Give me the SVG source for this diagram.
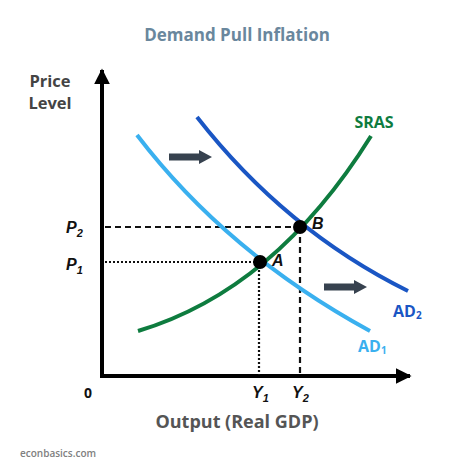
<svg xmlns="http://www.w3.org/2000/svg" width="474" height="474" viewBox="0 0 474 474">
<style>
.t{font-family:"Open Sans","Liberation Sans",sans-serif;font-weight:bold}
.lab{font-family:"Liberation Sans",sans-serif;font-weight:bold;font-style:italic;fill:#111}
.curve{fill:none;stroke-width:4;stroke-linecap:butt}
.dash{stroke:#111;stroke-width:2.2;stroke-dasharray:6 4;fill:none}
.dot{stroke:#111;stroke-width:2.2;stroke-dasharray:2 2;fill:none}
.shift{fill:#37424f}
</style>
<defs>
<marker id="ah" viewBox="0 0 10 10" refX="9" refY="5" markerWidth="4" markerHeight="4" orient="auto" markerUnits="strokeWidth">
<path d="M0,0 L10,5 L0,10 Z" fill="#000"/>
</marker>
</defs>
<rect width="474" height="474" fill="#fff"/>
<text class="t" x="237" y="41" text-anchor="middle" font-size="17" fill="#6a879d">Demand Pull Inflation</text>
<g id="axes">
<line x1="102" y1="378" x2="102" y2="70" stroke="#000" stroke-width="4" marker-end="url(#ah)"/>
<line x1="100" y1="376" x2="410" y2="376" stroke="#000" stroke-width="4" marker-end="url(#ah)"/>
<text class="t" x="50" y="87" text-anchor="middle" font-size="16.5" fill="#444">Price</text>
<text class="t" x="50" y="109" text-anchor="middle" font-size="16.5" fill="#444">Level</text>
<text class="t" x="88" y="398" text-anchor="middle" font-size="14" fill="#111">0</text>
<text class="t" x="237" y="428" text-anchor="middle" font-size="18" fill="#555">Output (Real GDP)</text>
</g>
<g id="connectors">
<line class="dash" x1="105" y1="227" x2="300" y2="227"/>
<line class="dash" x1="300" y1="227" x2="300" y2="375"/>
<line class="dot" x1="105" y1="262" x2="260" y2="262"/>
<line class="dot" x1="259" y1="262" x2="259" y2="375"/>
</g>
<g id="AD1">
<path class="curve" stroke="#3ab0ef" d="M137,135 Q227,253 370,331"/>
<text class="t" x="358" y="352" font-size="16" fill="#3ab0ef">AD<tspan font-size="10" dy="2">1</tspan></text>
</g>
<g id="AD2">
<path class="curve" stroke="#1a56c4" d="M197,117 Q285,230 408,291"/>
<text class="t" x="393" y="317" font-size="16" fill="#1a56c4">AD<tspan font-size="10" dy="2">2</tspan></text>
</g>
<g id="SRAS">
<path class="curve" stroke="#0e7c3f" d="M138,331 Q275,290 371,136"/>
<text class="t" x="374" y="128" text-anchor="middle" font-size="16" fill="#0e7c3f">SRAS</text>
</g>
<g id="shift1"><path class="shift" d="M169,153.5 H199 V150 L212,157 L199,164 V160.5 H169 Z"/></g>
<g id="shift2"><path class="shift" d="M324,283.5 H354 V280 L367,287 L354,294 V290.5 H324 Z"/></g>
<g id="pointA">
<circle cx="260" cy="262" r="7" fill="#000"/>
<text class="lab" x="272" y="266" font-size="16">A</text>
</g>
<g id="pointB">
<circle cx="300" cy="227" r="7" fill="#000"/>
<text class="lab" x="312" y="229" font-size="16">B</text>
</g>
<g id="labels">
<text class="lab" x="66" y="233" font-size="16">P<tspan font-size="11" dy="4">2</tspan></text>
<text class="lab" x="66" y="270" font-size="16">P<tspan font-size="11" dy="4">1</tspan></text>
<text class="lab" x="252" y="398" font-size="16">Y<tspan font-size="11" dy="4">1</tspan></text>
<text class="lab" x="292" y="398" font-size="16">Y<tspan font-size="11" dy="4">2</tspan></text>
</g>
<text x="20" y="457" font-family="'Open Sans','Liberation Sans',sans-serif" font-size="10" font-weight="600" fill="#808080">econbasics.com</text>
</svg>
